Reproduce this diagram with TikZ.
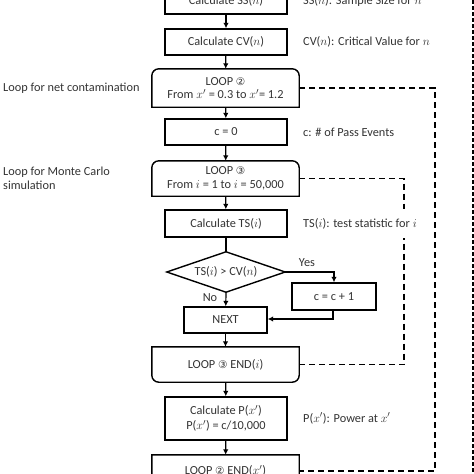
\documentclass[tikz,border=0pt]{standalone}
\usepackage{fontspec}
\setmainfont{Carlito}
\newfontfamily\circfont{DejaVu Sans}
\usetikzlibrary{arrows.meta,calc}
\definecolor{txt}{HTML}{333333}
\newcommand{\cir}[1]{{\circfont\fontsize{10.5}{12}\selectfont #1}}
\newcommand{\toprnd}[1]{\draw[frame] (#1.south west) -- ([yshift=-7pt]#1.north west) arc[start angle=180,end angle=90,radius=7pt] -- ([xshift=-7pt]#1.north east) arc[start angle=90,end angle=0,radius=7pt] -- (#1.south east) -- cycle;}
\newcommand{\botrnd}[1]{\draw[frame] (#1.north west) -- ([yshift=7pt]#1.south west) arc[start angle=180,end angle=270,radius=7pt] -- ([xshift=-7pt]#1.south east) arc[start angle=270,end angle=360,radius=7pt] -- (#1.north east) -- cycle;}
\begin{document}
\begin{tikzpicture}[x=1pt,y=1pt,
  every node/.style={font=\fontsize{12.3}{13.5}\selectfont, text=txt},
  frame/.style={draw=black, line width=1.4pt},
  box/.style={frame, minimum width=122pt, minimum height=26pt, inner sep=0pt, align=center},
  loopbox/.style={minimum width=147pt, minimum height=35pt, inner sep=0pt, align=center},
  lbl/.style={anchor=west, inner sep=0pt, align=left},
  arr/.style={line width=1.2pt, -{Latex[length=5.5pt,width=5.5pt]}},
  ln/.style={line width=1.2pt},
  dsh/.style={line width=1.3pt, dash pattern=on 6pt off 4pt},
  dshr/.style={line width=1.6pt, dash pattern=on 3.5pt off 2.5pt}
]
\clip (0,-474) rectangle (474,0);
\useasboundingbox (0,-474) rectangle (474,0);

% main nodes
\node[box] (ss) at (226,-1) {Calculate SS($n$)};
\node[box] (cv) at (226,-42) {Calculate CV($n$)};
\node[loopbox, minimum height=38pt] (l2) at (225.5,-88) {LOOP \cir{②}\\From $x'$ = 0.3 to $x'$= 1.2};
\toprnd{l2}
\node[box] (c0) at (226,-132) {c = 0};
\node[loopbox] (l3) at (225.5,-178.5) {LOOP \cir{③}\\From $i$ = 1 to $i$ = 50,000};
\toprnd{l3}
\node[box, minimum height=27pt] (ts) at (226,-223.5) {Calculate TS($i$)};
\node[minimum width=118pt, minimum height=40pt, inner sep=0pt] (dia) at (226,-272) {TS($i$) > CV($n$)};
\draw[frame] (dia.west) -- (dia.north) -- (dia.east) -- (dia.south) -- cycle;
\node[box, minimum width=84pt, minimum height=27pt] (cc) at (334,-296.5) {c = c + 1};
\node[box, minimum width=83pt] (next) at (225.5,-320) {NEXT};
\node[loopbox] (l3e) at (225.5,-364.5) {LOOP \cir{③} END($i$)};
\botrnd{l3e}
\node[box, minimum height=43pt, font=\fontsize{12.3}{15}\selectfont] (cp) at (226,-418.5) {Calculate P($x'$)\\P($x'$) = c/10,000};
\node[loopbox, minimum height=32pt] (l2e) at (225.5,-471) {LOOP \cir{②} END($x'$)};
\botrnd{l2e}

% connectors
\draw[arr] (ss) -- (cv);
\draw[arr] (cv) -- (l2);
\draw[arr] (l2) -- (c0);
\draw[arr] (c0) -- (l3);
\draw[arr] (l3) -- (ts);
\draw[ln] (ts) -- (dia.north);
\draw[arr] (dia.south) -- (next);
\node (no) at (210,-298) {No};
\draw[arr] (dia.east) -| (cc.north);
\node (yes) at (307,-263) {Yes};
\coordinate (ccb) at (333,-319);
\draw[arr] (cc.south -| ccb) -- (ccb) -- (ccb -| next.east);
\draw[arr] (next) -- (l3e);
\draw[arr] (l3e) -- (cp);
\draw[arr] (cp) -- (l2e);

% dashed loop lines
\coordinate (d3) at (404,-364.5);
\draw[dsh] (l3.east) -| (d3) -- (l3e.east);
\coordinate (d2) at (435,-471);
\draw[dsh] (l2.east) -| (d2) -- (l2e.east);
\coordinate (r1) at (473,0);
\coordinate (r2) at (473,-474);
\draw[dshr] (r1) -- (r2);

% side labels
\node[lbl] (t1) at (3,-88) {Loop for net contamination};
\node[lbl] (t2) at (3,-178.5) {Loop for Monte Carlo\\simulation};
\node[lbl] (s1) at (303,-1) {SS($n$): Sample Size for $n$};
\node[lbl] (s2) at (303,-42) {CV($n$): Critical Value for $n$};
\node[lbl] (s3) at (303,-132) {c: \# of Pass Events};
\node[lbl, fill=white, inner xsep=0pt, inner ysep=9pt] (s4) at (303,-223.5) {TS($i$): test statistic for $i$};
\node[lbl] (s5) at (303,-418.5) {P($x'$): Power at $x'$};
\end{tikzpicture}
\end{document}
